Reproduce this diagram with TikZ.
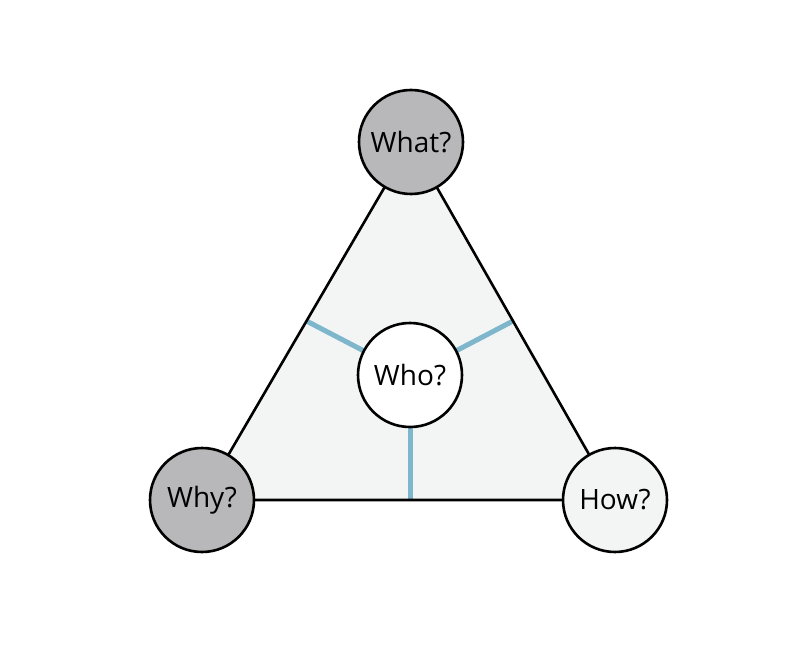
\documentclass[tikz,border=0pt]{standalone}
\usepackage{fontspec}
\setmainfont{Open Sans}
\usetikzlibrary{calc}
\definecolor{darkfill}{HTML}{B8B7B9}
\definecolor{lightfill}{HTML}{F3F5F5}
\definecolor{bluelink}{HTML}{7EB6CC}
\begin{document}
\begin{tikzpicture}[x=1pt,y=-1pt,
  bubble/.style={circle,draw=black,line width=2.6pt,minimum size=104pt,inner sep=0pt,font=\fontsize{28}{30}\selectfont},
  edge/.style={draw=black,line width=2.6pt},
  spoke/.style={draw=bluelink,line width=5pt}]
\useasboundingbox (0,0) rectangle (809,647);
\coordinate (A) at (411,142);
\coordinate (B) at (202,500);
\coordinate (C) at (615,500);
\coordinate (O) at (410,375);
\coordinate (mAB) at ($(A)!0.5!(B)$);
\coordinate (mAC) at ($(A)!0.5!(C)$);
\coordinate (mBC) at (410,500);
\fill[lightfill] (A) -- (B) -- (C) -- cycle;
\draw[spoke] (O) -- (mAB);
\draw[spoke] (O) -- (mAC);
\draw[spoke] (O) -- (mBC);
\draw[edge,line join=round] (A) -- (B) -- (C) -- cycle;
\node[bubble,fill=darkfill] (what) at (A) {\raisebox{-2pt}{What?}};
\node[bubble,fill=darkfill] (why) at (B) {\raisebox{-2pt}{Why?}};
\node[bubble,fill=lightfill] (how) at (C) {\raisebox{-2pt}{How?}};
\node[bubble,fill=white] (who) at (O) {\raisebox{-2pt}{Who?}};
\end{tikzpicture}
\end{document}
